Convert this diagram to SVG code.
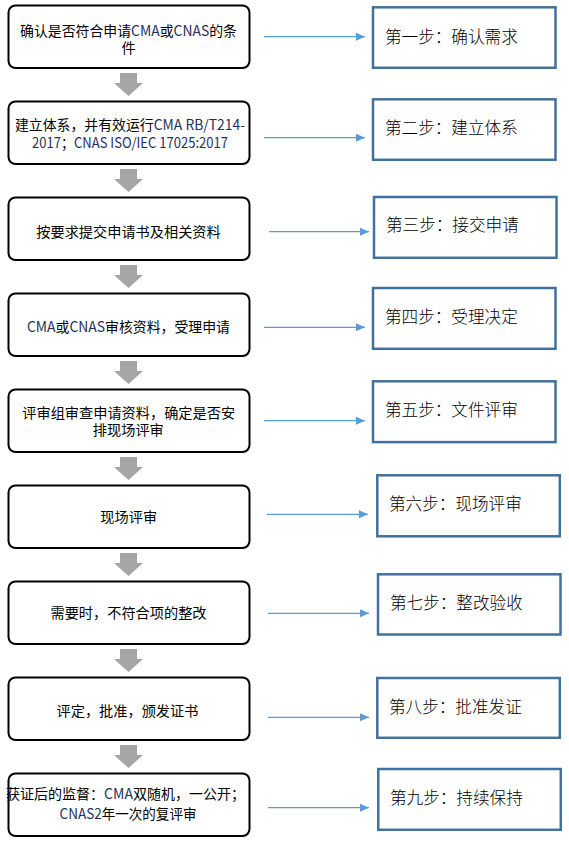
<svg xmlns="http://www.w3.org/2000/svg" width="569" height="843" viewBox="0 0 569 843">
<style>
.lbox{fill:#fff;stroke:#000;stroke-width:2}
.rbox{fill:#fff;stroke:#41719C;stroke-width:2.5}
.lt{font-family:"Noto Sans CJK SC","Noto Sans",sans-serif;font-size:14.2px;fill:#000;text-anchor:middle}
.rt{font-family:"Noto Sans CJK SC","Noto Sans",sans-serif;font-size:16.6px;font-weight:300;fill:#000}
.en{fill:#1f3060}
.conn{stroke:#5B9BD5;stroke-width:1.3;fill:none;marker-end:url(#ah)}
.down{fill:#A5A5A5}
</style>
<defs>
<marker id="ah" markerUnits="userSpaceOnUse" markerWidth="10" markerHeight="9" refX="9" refY="4" orient="auto">
<path d="M0,0 L9,4 L0,8 Z" fill="#5B9BD5"/>
</marker>
</defs>
<rect width="569" height="843" fill="#fff"/>

<g id="flow-arrows">
<path class="down" d="M120,73 L137,73 L137,83 L143,83 L128.5,96 L114,83 L120,83 Z"/>
<path class="down" d="M120,169 L137,169 L137,179 L143,179 L128.5,192 L114,179 L120,179 Z"/>
<path class="down" d="M120,265 L137,265 L137,275 L143,275 L128.5,288 L114,275 L120,275 Z"/>
<path class="down" d="M120,361 L137,361 L137,371 L143,371 L128.5,384 L114,371 L120,371 Z"/>
<path class="down" d="M120,457 L137,457 L137,467 L143,467 L128.5,480 L114,467 L120,467 Z"/>
<path class="down" d="M120,553 L137,553 L137,563 L143,563 L128.5,576 L114,563 L120,563 Z"/>
<path class="down" d="M120,649 L137,649 L137,659 L143,659 L128.5,672 L114,659 L120,659 Z"/>
<path class="down" d="M120,745 L137,745 L137,755 L143,755 L128.5,768 L114,755 L120,755 Z"/>
</g>

<g id="connectors">
<line class="conn" x1="264" y1="36.7" x2="365" y2="36.7"/>
<line class="conn" x1="264" y1="137.7" x2="365" y2="137.7"/>
<line class="conn" x1="269" y1="231.7" x2="369" y2="231.7"/>
<line class="conn" x1="264" y1="327.3" x2="365" y2="327.3"/>
<line class="conn" x1="264" y1="420.7" x2="365" y2="420.7"/>
<line class="conn" x1="267" y1="514.3" x2="368" y2="514.3"/>
<line class="conn" x1="268" y1="613.3" x2="369" y2="613.3"/>
<line class="conn" x1="268" y1="717.3" x2="369" y2="717.3"/>
<line class="conn" x1="268" y1="807.7" x2="369" y2="807.7"/>
</g>

<g id="left1">
<rect class="lbox" x="8.5" y="5.5" width="241" height="62.5" rx="7"/>
<text class="lt" x="128.5" y="35.5" textLength="217" lengthAdjust="spacingAndGlyphs">确认是否符合申请<tspan class="en">CMA</tspan>或<tspan class="en">CNAS</tspan>的条</text>
<text class="lt" x="128.5" y="52.5">件</text>
</g>
<g id="left2">
<rect class="lbox" x="8.5" y="101.5" width="241" height="62.5" rx="7"/>
<text class="lt" x="130" y="129.5" textLength="230" lengthAdjust="spacingAndGlyphs">建立体系，并有效运行<tspan class="en">CMA RB/T214-</tspan></text>
<text class="lt" x="130" y="148" textLength="196" lengthAdjust="spacingAndGlyphs"><tspan class="en">2017</tspan>；<tspan class="en">CNAS ISO/IEC 17025:2017</tspan></text>
</g>
<g id="left3">
<rect class="lbox" x="8.5" y="197.5" width="241" height="62.5" rx="7"/>
<text class="lt" x="128.5" y="237">按要求提交申请书及相关资料</text>
</g>
<g id="left4">
<rect class="lbox" x="8.5" y="293.5" width="241" height="62.5" rx="7"/>
<text class="lt" x="128.5" y="332" textLength="203" lengthAdjust="spacingAndGlyphs"><tspan class="en">CMA</tspan>或<tspan class="en">CNAS</tspan>审核资料，受理申请</text>
</g>
<g id="left5">
<rect class="lbox" x="8.5" y="389.5" width="241" height="62.5" rx="7"/>
<text class="lt" x="128.7" y="417.5">评审组审查申请资料，确定是否安</text>
<text class="lt" x="128.3" y="435">排现场评审</text>
</g>
<g id="left6">
<rect class="lbox" x="8.5" y="485.5" width="241" height="62.5" rx="7"/>
<text class="lt" x="128.7" y="522">现场评审</text>
</g>
<g id="left7">
<rect class="lbox" x="8.5" y="581.5" width="241" height="62.5" rx="7"/>
<text class="lt" x="128.5" y="618">需要时，不符合项的整改</text>
</g>
<g id="left8">
<rect class="lbox" x="8.5" y="677.5" width="241" height="62.5" rx="7"/>
<text class="lt" x="127.5" y="715.5">评定，批准，颁发证书</text>
</g>
<g id="left9">
<rect class="lbox" x="8.5" y="773.5" width="241" height="62.5" rx="7"/>
<text class="lt" x="125.5" y="799" textLength="239" lengthAdjust="spacingAndGlyphs">获证后的监督：<tspan class="en">CMA</tspan>双随机，一公开；</text>
<text class="lt" x="128" y="819" textLength="137" lengthAdjust="spacingAndGlyphs"><tspan class="en">CNAS2</tspan>年一次的复评审</text>
</g>

<g id="step1">
<rect class="rbox" x="373" y="7.3" width="182.5" height="60.5"/>
<text class="rt" x="385" y="42.5">第一步：确认需求</text>
</g>
<g id="step2">
<rect class="rbox" x="373" y="99.3" width="182.5" height="60.5"/>
<text class="rt" x="385" y="134">第二步：建立体系</text>
</g>
<g id="step3">
<rect class="rbox" x="374" y="197" width="182.5" height="60.8"/>
<text class="rt" x="386" y="231">第三步：接交申请</text>
</g>
<g id="step4">
<rect class="rbox" x="373" y="288" width="182.5" height="60.8"/>
<text class="rt" x="385" y="323">第四步：受理决定</text>
</g>
<g id="step5">
<rect class="rbox" x="373" y="381.3" width="182.5" height="60.8"/>
<text class="rt" x="385" y="416">第五步：文件评审</text>
</g>
<g id="step6">
<rect class="rbox" x="377.3" y="475.3" width="182.5" height="61"/>
<text class="rt" x="389" y="510">第六步：现场评审</text>
</g>
<g id="step7">
<rect class="rbox" x="378" y="574.3" width="182.5" height="60.2"/>
<text class="rt" x="390" y="609">第七步：整改验收</text>
</g>
<g id="step8">
<rect class="rbox" x="377.3" y="678" width="182.5" height="59.8"/>
<text class="rt" x="389" y="713">第八步：批准发证</text>
</g>
<g id="step9">
<rect class="rbox" x="378.3" y="769" width="182.5" height="60.8"/>
<text class="rt" x="390" y="804">第九步：持续保持</text>
</g>
</svg>
